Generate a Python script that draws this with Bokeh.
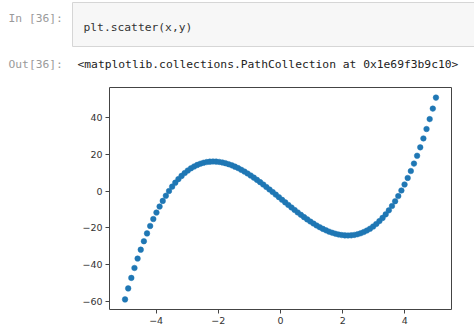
from bokeh.plotting import figure
from bokeh.layouts import column
from bokeh.models import Range1d, FixedTicker
from bokeh.core.properties import value
from bokeh.embed import file_html
from bokeh.resources import INLINE

# ---- data ----
xs = [-5.0, -4.899, -4.798, -4.697, -4.596, -4.4949, -4.3939, -4.2929, -4.1919, -4.0909,
      -3.9899, -3.8889, -3.7879, -3.6869, -3.5859, -3.4848, -3.3838, -3.2828, -3.1818, -3.0808,
      -2.9798, -2.8788, -2.7778, -2.6768, -2.5758, -2.4747, -2.3737, -2.2727, -2.1717, -2.0707,
      -1.9697, -1.8687, -1.7677, -1.6667, -1.5657, -1.4646, -1.3636, -1.2626, -1.1616, -1.0606,
      -0.9596, -0.8586, -0.7576, -0.6566, -0.5556, -0.4545, -0.3535, -0.2525, -0.1515, -0.0505,
      0.0505, 0.1515, 0.2525, 0.3535, 0.4545, 0.5556, 0.6566, 0.7576, 0.8586, 0.9596,
      1.0606, 1.1616, 1.2626, 1.3636, 1.4646, 1.5657, 1.6667, 1.7677, 1.8687, 1.9697,
      2.0707, 2.1717, 2.2727, 2.3737, 2.4747, 2.5758, 2.6768, 2.7778, 2.8788, 2.9798,
      3.0808, 3.1818, 3.2828, 3.3838, 3.4848, 3.5859, 3.6869, 3.7879, 3.8889, 3.9899,
      4.0909, 4.1919, 4.2929, 4.3939, 4.4949, 4.596, 4.697, 4.798, 4.899, 5.0]
ys = [-59.0, -52.99, -47.28, -41.87, -36.74, -31.89, -27.31, -23.01, -18.97, -15.19,
      -11.66, -8.37, -5.32, -2.50, 0.09, 2.47, 4.63, 6.58, 8.33, 9.89,
      11.26, 12.45, 13.46, 14.30, 14.97, 15.49, 15.86, 16.08, 16.16, 16.11,
      15.93, 15.64, 15.22, 14.70, 14.08, 13.36, 12.56, 11.66, 10.70, 9.66,
      8.55, 7.39, 6.17, 4.91, 3.61, 2.27, 0.90, -0.48, -1.88, -3.29,
      -4.71, -6.12, -7.52, -8.90, -10.27, -11.61, -12.91, -14.17, -15.39, -16.55,
      -17.66, -18.70, -19.66, -20.56, -21.36, -22.08, -22.70, -23.22, -23.64, -23.93,
      -24.11, -24.16, -24.08, -23.86, -23.49, -22.97, -22.30, -21.46, -20.45, -19.26,
      -17.89, -16.33, -14.58, -12.63, -10.47, -8.09, -5.50, -2.68, 0.37, 3.66,
      7.19, 10.97, 15.01, 19.31, 23.89, 28.74, 33.87, 39.28, 44.99, 51.0]

x_ticks = [-4, -2, 0, 2, 4]
x_tick_labels = ["\u22124", "\u22122", "0", "2", "4"]
y_ticks = [-60, -40, -20, 0, 20, 40]
y_tick_labels = ["\u221260", "\u221240", "\u221220", "0", "20", "40"]

in_prompt = "In [36]:"
code_text = "plt.scatter(x,y)"
out_prompt = "Out[36]:"
out_text = "<matplotlib.collections.PathCollection at 0x1e69f3b9c10>"

MONO = value("DejaVu Sans Mono")

# ---- notebook header (pixel coordinates) ----
head = figure(width=474, height=80, output_backend="svg", toolbar_location=None,
              x_range=Range1d(0, 474), y_range=Range1d(80, 0),
              x_axis_location=None, y_axis_location=None,
              min_border=0, outline_line_color=None)
head.frame_align = False
head.grid.visible = False
head.quad(left=[72], right=[480], top=[2], bottom=[46],
          fill_color="#f7f7f7", line_color="#d6d6d6", line_width=1)
head.text(x=[8], y=[18], text=[in_prompt], text_font=MONO, text_font_size="11.3px",
          text_color="#9a9a9a", text_baseline="middle")
head.text(x=[83], y=[27], text=[code_text], text_font=MONO, text_font_size="11.3px",
          text_color="#333333", text_baseline="middle")
head.text(x=[8], y=[64], text=[out_prompt], text_font=MONO, text_font_size="11.3px",
          text_color="#9a9a9a", text_baseline="middle")
head.text(x=[77], y=[64], text=[out_text], text_font=MONO, text_font_size="11.3px",
          text_color="#222222", text_baseline="middle")

# ---- scatter plot ----
p = figure(width=474, height=250, output_backend="svg", toolbar_location=None,
           x_range=Range1d(-5.5, 5.5), y_range=Range1d(-64.5, 56.5),
           min_border_left=109, min_border_right=23, min_border_top=7, min_border_bottom=21)
p.frame_align = False
p.grid.visible = False
p.outline_line_color = "#444444"
p.outline_line_width = 1
p.scatter(xs, ys, size=5.6, fill_color="#1f77b4", line_color="#1f77b4", line_width=0.5)

for ax, ticks, labels in ((p.xaxis[0], x_ticks, x_tick_labels), (p.yaxis[0], y_ticks, y_tick_labels)):
    ax.ticker = FixedTicker(ticks=ticks)
    ax.major_label_overrides = {t: l for t, l in zip(ticks, labels)}
    ax.axis_line_color = None
    ax.major_tick_line_color = "#444444"
    ax.major_tick_out = 4
    ax.major_tick_in = 0
    ax.minor_tick_line_color = None
    ax.major_label_text_font = "DejaVu Sans"
    ax.major_label_text_font_size = "9.5px"
    ax.major_label_text_color = "#333333"
    ax.major_label_standoff = 3

layout = column(head, p, spacing=0)
open("out.html", "w").write(file_html(layout, INLINE))
